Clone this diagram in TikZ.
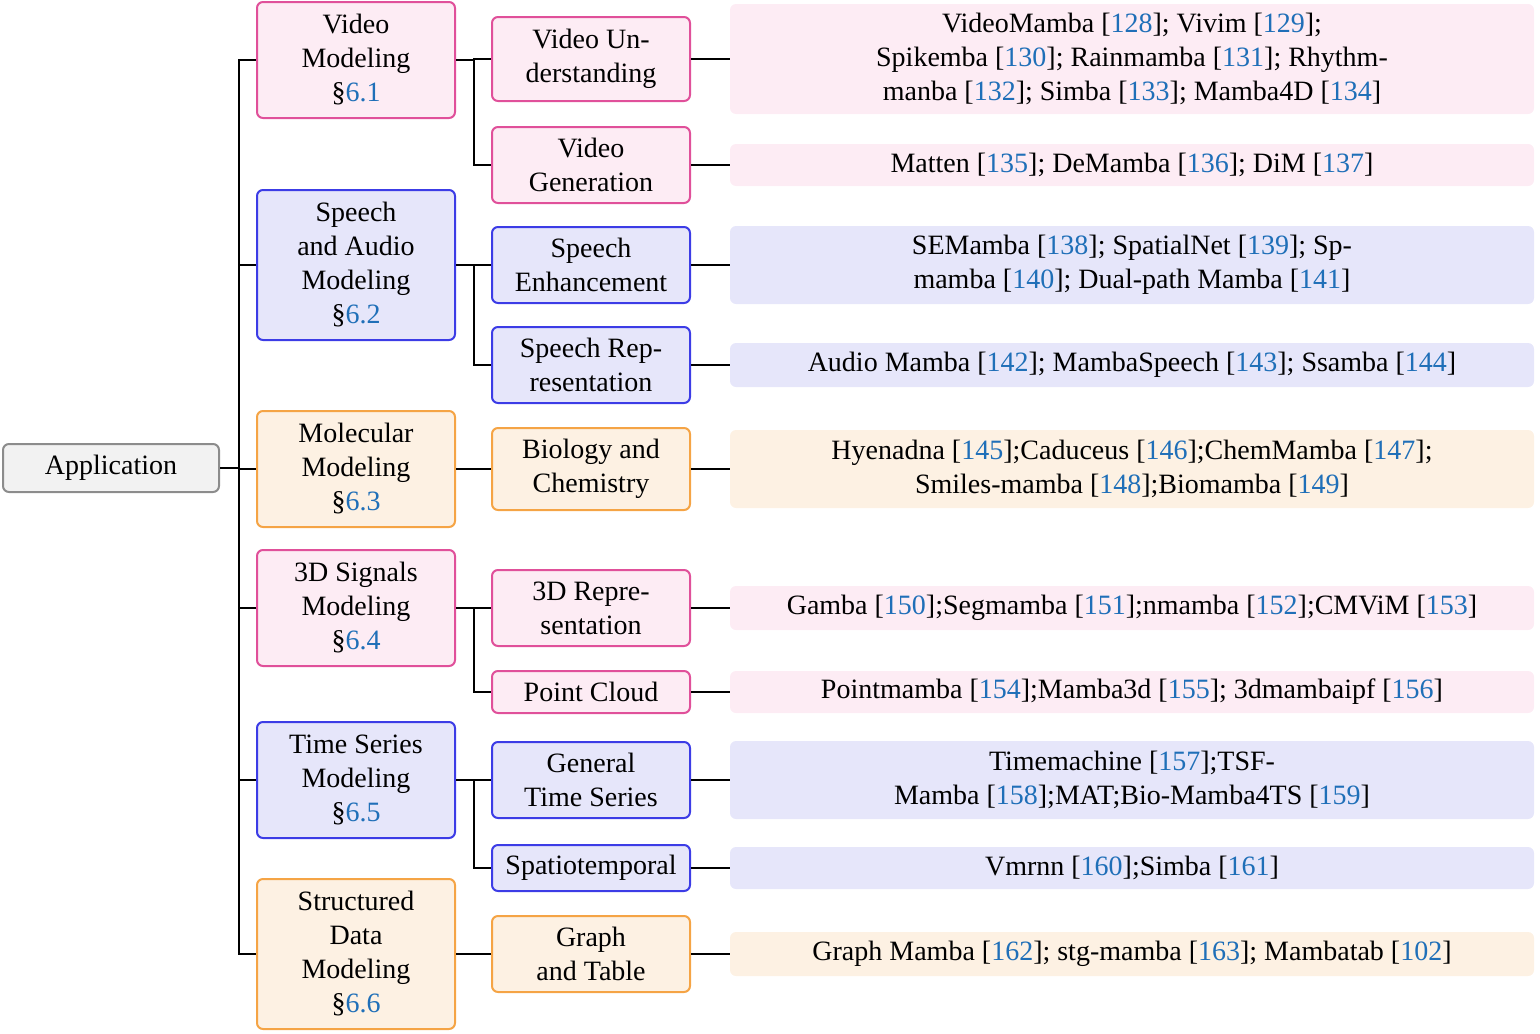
\documentclass[tikz,border=0pt]{standalone}
\usepackage{fontspec}
\setmainfont{Liberation Serif}
\begin{document}
\definecolor{pkF}{HTML}{FDECF4}\definecolor{pkD}{HTML}{E0509A}
\definecolor{blF}{HTML}{E6E6FA}\definecolor{blD}{HTML}{3C3CE6}
\definecolor{orF}{HTML}{FDF1E3}\definecolor{orD}{HTML}{F5A445}
\definecolor{grF}{HTML}{F2F2F2}\definecolor{grD}{HTML}{8C8C8C}
\definecolor{refc}{HTML}{1F6FB8}
\newcommand\rf[1]{[\textcolor{refc}{#1}]}
\begin{tikzpicture}[x=0.5pt,y=-0.5pt,
  every node/.style={font=\fontsize{14}{17}\selectfont, align=center, inner sep=0pt, rounded corners=3pt},
  box/.style={draw, line width=1pt, minimum width=99pt},
  pk/.style={box, draw=pkD, fill=pkF}, bl/.style={box, draw=blD, fill=blF}, orn/.style={box, draw=orD, fill=orF},
  lf/.style={minimum width=402pt},
  pkL/.style={lf, fill=pkF}, blL/.style={lf, fill=blF}, orL/.style={lf, fill=orF},
  con/.style={line width=0.6pt}]
\useasboundingbox (0,0) rectangle (1540,1033);
\node[draw=grD, fill=grF, line width=1pt, minimum width=108pt, minimum height=24pt] (root) at (111,468) {Application};
% level 1
\node[pk, minimum height=58pt] (a) at (356,60) {Video\\Modeling\\§\textcolor{refc}{6.1}};
\node[bl, minimum height=75pt] (b) at (356,265) {Speech\\and Audio\\Modeling\\§\textcolor{refc}{6.2}};
\node[orn, minimum height=58pt] (c) at (356,469) {Molecular\\Modeling\\§\textcolor{refc}{6.3}};
\node[pk, minimum height=58pt] (d) at (356,608) {3D Signals\\Modeling\\§\textcolor{refc}{6.4}};
\node[bl, minimum height=58pt] (e) at (356,780) {Time Series\\Modeling\\§\textcolor{refc}{6.5}};
\node[orn, minimum height=75pt] (f) at (356,954) {Structured\\Data\\Modeling\\§\textcolor{refc}{6.6}};
% level 2
\node[pk, minimum height=42pt] (a1) at (591,59) {Video Un-\\derstanding};
\node[pk, minimum height=38pt] (a2) at (591,165) {Video\\Generation};
\node[bl, minimum height=38pt] (b1) at (591,265) {Speech\\Enhancement};
\node[bl, minimum height=38pt] (b2) at (591,365) {Speech Rep-\\resentation};
\node[orn, minimum height=41pt] (c1) at (591,469) {Biology and\\Chemistry};
\node[pk, minimum height=38pt] (d1) at (591,608) {3D Repre-\\sentation};
\node[pk, minimum height=21pt] (d2) at (591,692) {Point Cloud};
\node[bl, minimum height=38pt] (e1) at (591,780) {General\\Time Series};
\node[bl, minimum height=23pt] (e2) at (591,868) {Spatiotemporal};
\node[orn, minimum height=38pt] (f1) at (591,954) {Graph\\and Table};
% level 3
\node[pkL, minimum height=55pt] (a1x) at (1132,59) {VideoMamba \rf{128}; Vivim \rf{129};\\Spikemba \rf{130}; Rainmamba \rf{131}; Rhythm-\\manba \rf{132}; Simba \rf{133}; Mamba4D \rf{134}};
\node[pkL, minimum height=21pt] (a2x) at (1132,165) {Matten \rf{135}; DeMamba \rf{136}; DiM \rf{137}};
\node[blL, minimum height=39pt] (b1x) at (1132,265) {SEMamba \rf{138}; SpatialNet \rf{139}; Sp-\\mamba \rf{140}; Dual-path Mamba \rf{141}};
\node[blL, minimum height=22pt] (b2x) at (1132,365) {Audio Mamba \rf{142}; MambaSpeech \rf{143}; Ssamba \rf{144}};
\node[orL, minimum height=39pt] (c1x) at (1132,469) {Hyenadna \rf{145};Caduceus \rf{146};ChemMamba \rf{147};\\Smiles-mamba \rf{148};Biomamba \rf{149}};
\node[pkL, minimum height=22pt] (d1x) at (1132,608) {Gamba \rf{150};Segmamba \rf{151};nmamba \rf{152};CMViM \rf{153}};
\node[pkL, minimum height=21pt] (d2x) at (1132,692) {Pointmamba \rf{154};Mamba3d \rf{155}; 3dmambaipf \rf{156}};
\node[blL, minimum height=39pt] (e1x) at (1132,780) {Timemachine \rf{157};TSF-\\Mamba \rf{158};MAT;Bio-Mamba4TS \rf{159}};
\node[blL, minimum height=21pt] (e2x) at (1132,868) {Vmrnn \rf{160};Simba \rf{161}};
\node[orL, minimum height=22pt] (f1x) at (1132,954) {Graph Mamba \rf{162}; stg-mamba \rf{163}; Mambatab \rf{102}};
% connectors
\foreach \p in {a,b,c,d,e,f} \draw[con] (root.east) -- ++(19,0) |- (\p.west);
\foreach \p/\q in {a/a1,a/a2,b/b1,b/b2,c/c1,d/d1,d/d2,e/e1,e/e2,f/f1} \draw[con] (\p.east) -- ++(18,0) |- (\q.west);
\foreach \q in {a1,a2,b1,b2,c1,d1,d2,e1,e2,f1} \draw[con] (\q.east) -- (\q x.west);
\end{tikzpicture}
\end{document}
